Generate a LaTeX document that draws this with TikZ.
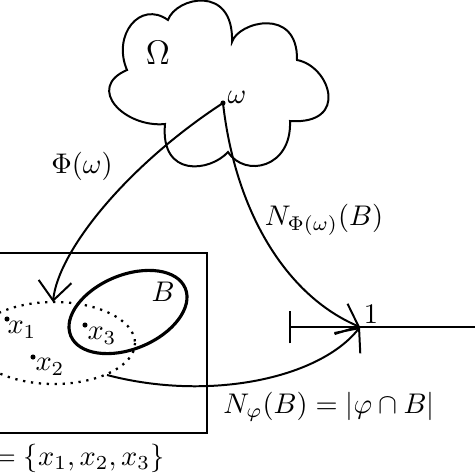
\documentclass[tikz,border=0pt]{standalone}
\usetikzlibrary{arrows.meta}
\begin{document}
\begin{tikzpicture}[x=0.352pt,y=-0.352pt,
  line/.style={line width=0.7pt},
  barb/.style={-{Straight Barb[length=6.7pt,width=11.6pt]}},
  dotmark/.style={circle,fill,inner sep=0pt,minimum size=1.8pt},
  lbl/.style={inner sep=0pt},
  dottedell/.style={line width=0.8pt,dash pattern=on 0.8pt off 2pt}]
\useasboundingbox (0,0) rectangle (474,474);
% cloud Omega
\draw[line] (168,20) .. controls (176,-3) and (234,-16) .. (232,42)
 .. controls (238,22) and (298,6) .. (297,60)
 .. controls (330,66) and (350,125) .. (290,121)
 .. controls (292,168) and (245,178) .. (228,152)
 .. controls (210,172) and (160,178) .. (165,124)
 .. controls (125,128) and (85,88) .. (127,70)
 .. controls (112,35) and (140,0) .. cycle;
\node[lbl] (Om) at (158,53) {\large$\Omega$};
\node[dotmark] (w) at (223,103) {};
\node[lbl] (wl) at (237,97) {$\omega$};
\node[lbl] (Phil) at (82,166) {$\Phi(\omega)$};
\node[lbl] (NPhil) at (324,220) {$N_{\Phi(\omega)}(B)$};
% window
\draw[line] (-5,253) rectangle (207,433);
\draw[dottedell] (54,343) ellipse [x radius=81,y radius=41];
\draw[line width=1.1pt, rotate around={22.5:(128,312)}] (128,312) ellipse [x radius=62,y radius=37];
\node[lbl] (Bl) at (163,292) {$B$};
\node[dotmark] (x1) at (7,319) {};
\node[lbl] (x1l) at (22,330) {$x_1$};
\node[dotmark] (x3) at (85,325) {};
\node[lbl] (x3l) at (102,336) {$x_3$};
\node[dotmark] (x2) at (33,357) {};
\node[lbl] (x2l) at (50,367) {$x_2$};
\coordinate (ptop) at (53,302);
\coordinate (pout) at (107,375);
\coordinate (zero) at (289,327);
\coordinate (one) at (360,327);
\coordinate (inf) at (480,327);
\draw[line,{Bar[width=11.6pt]}-] (zero) -- (inf);
\node[lbl] (onel) at (371,314) {$1$};
\draw[line,barb] (w.center) .. controls (125,167) and (58,252) .. (ptop);
\draw[line,barb] (w.center) .. controls (235,210) and (285,295) .. (one);
\draw[line,barb] (pout) .. controls (210,402) and (320,378) .. (one);
\node[lbl] (Nphil) at (329,407) {$N_\varphi(B)=|\varphi\cap B|$};
\node[lbl,anchor=east] (setl) at (165,458) {$=\{x_1,x_2,x_3\}$};
\end{tikzpicture}
\end{document}
